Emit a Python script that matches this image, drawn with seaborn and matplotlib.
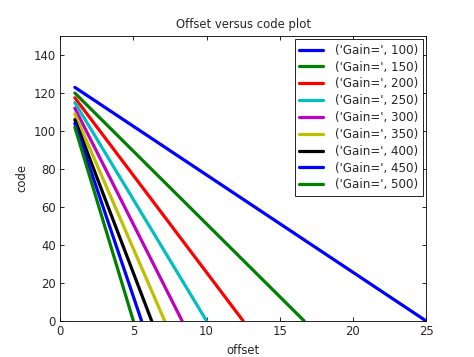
import pandas as pd
import matplotlib.pyplot as plt
import seaborn as sns

# values
gains = [100, 150, 200, 250, 300, 350, 400, 450, 500]
start_offset = [1, 1, 1, 1, 1, 1, 1, 1, 1]
start_code = [123, 120, 117.5, 115, 112, 109, 106, 104, 102]
zero_offset = [25, 16.67, 12.5, 10, 8.33, 7.14, 6.25, 5.56, 5]
colors = ['b', 'g', 'r', 'c', 'm', 'y', 'k', 'b', 'g']

rows = []
for g, x0, y0, x1 in zip(gains, start_offset, start_code, zero_offset):
    label = str(('Gain=', g))
    rows.append({'offset': x0, 'code': y0, 'gain': label})
    rows.append({'offset': x1, 'code': 0, 'gain': label})
df = pd.DataFrame(rows)

sns.set_style('ticks')
fs = 8.4
plt.rcParams.update({'font.family': ['DejaVu Sans'], 'font.size': fs,
                     'xtick.direction': 'in', 'ytick.direction': 'in',
                     'xtick.top': True, 'ytick.right': True,
                     'axes.edgecolor': 'black', 'axes.linewidth': 0.6})

fig = plt.figure(figsize=(4.74, 3.57), dpi=100)
ax = fig.add_axes([0.127, 0.101, 0.772, 0.798])
sns.lineplot(data=df, x='offset', y='code', hue='gain', palette=colors,
             linewidth=2.3, ax=ax, sort=False, estimator=None)

ax.set_xlim(0, 25)
ax.set_ylim(0, 150)
ax.set_xticks([0, 5, 10, 15, 20, 25])
ax.set_yticks(range(0, 141, 20))
ax.tick_params(labelsize=fs, length=3, width=0.6, color='black', pad=3)
ax.set_xlabel('offset', fontsize=fs)
ax.set_ylabel('code', fontsize=fs)
ax.set_title('Offset versus code plot', fontsize=fs)
leg = ax.legend(loc='upper right', fontsize=8.6, fancybox=False, framealpha=1,
                edgecolor='black', handlelength=2.0, handletextpad=1.0,
                borderpad=0.4, labelspacing=0.32, borderaxespad=0.25)
leg.get_frame().set_linewidth(0.6)

fig.savefig('out.png', dpi=100)
